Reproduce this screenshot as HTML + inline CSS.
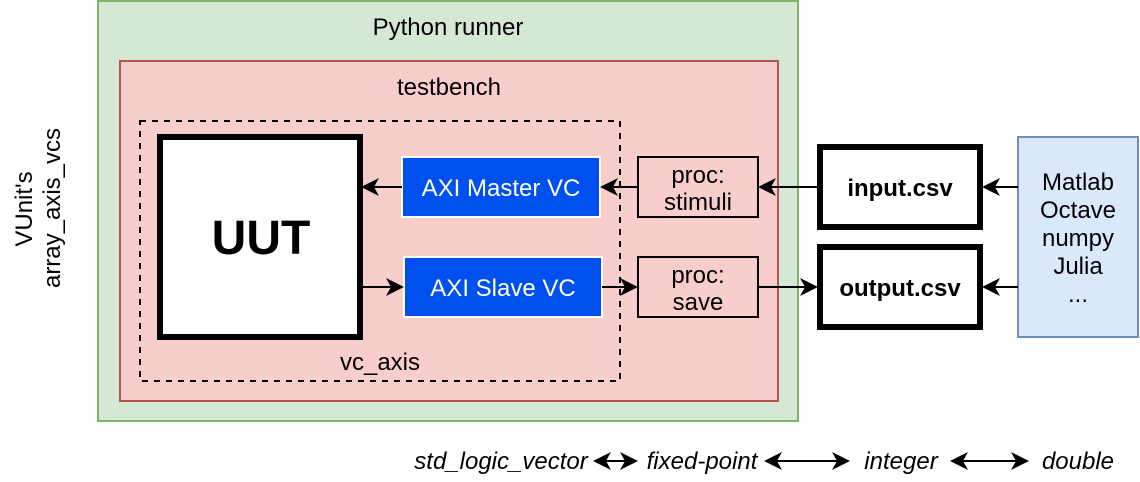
<!DOCTYPE html>
<html><head><meta charset="utf-8"><style>
html,body{margin:0;padding:0;background:#fff}
svg{display:block}
text{font-family:"Liberation Sans",sans-serif;font-size:24px;text-anchor:middle;fill:#000}
.w{fill:#fff}.b{font-weight:bold}.i{font-style:italic}
.l{stroke:#000;stroke-width:2;fill:none}
</style></head><body>
<svg width="1140" height="482" viewBox="0 0 1140 482" xmlns="http://www.w3.org/2000/svg">
<defs>
<path id="L" d="M-1 0L17 -9L12 0L17 9Z" fill="#000"/>
<path id="R" d="M1 0L-17 -9L-12 0L-17 9Z" fill="#000"/>
</defs>
<rect x="98" y="1" width="700" height="420" fill="#d5e8d4" stroke="#82b366" stroke-width="2"/>
<rect x="120" y="61" width="658" height="340" fill="#f8cecc" stroke="#b85450" stroke-width="2"/>
<rect x="140" y="121" width="480" height="260" fill="none" stroke="#000" stroke-width="2" stroke-dasharray="6 6"/>
<rect x="160" y="137" width="200" height="200" fill="#fff" stroke="#000" stroke-width="6"/>
<rect x="402" y="157" width="198" height="60" fill="#0050ef" stroke="#fff" stroke-width="2"/>
<rect x="404" y="257" width="198" height="60" fill="#0050ef" stroke="#fff" stroke-width="2"/>
<rect x="638" y="157" width="120" height="60" fill="#f8cecc" stroke="#000" stroke-width="2"/>
<rect x="638" y="257" width="120" height="60" fill="#f8cecc" stroke="#000" stroke-width="2"/>
<rect x="820" y="147" width="160" height="80" fill="#fff" stroke="#000" stroke-width="6"/>
<rect x="820" y="247" width="160" height="80" fill="#fff" stroke="#000" stroke-width="6"/>
<rect x="1018" y="137" width="120" height="200" fill="#dae8fc" stroke="#6c8ebf" stroke-width="2"/>

<path class="l" d="M402 187H372M638 187H610M818 187H770M1018 187H992M1018 287H992M362 287H394M602 287H628M758 287H808"/>
<use href="#L" x="362" y="187"/><use href="#L" x="601" y="187"/><use href="#L" x="759" y="187"/>
<use href="#L" x="983" y="187"/><use href="#L" x="983" y="287"/>
<use href="#R" x="403" y="287"/><use href="#R" x="637" y="287"/><use href="#R" x="817" y="287"/>

<path class="l" d="M603 461H628M775 461H838M960 461H1018"/>
<use href="#L" x="594" y="461"/><use href="#R" x="637" y="461"/>
<use href="#L" x="765" y="461"/><use href="#R" x="849" y="461"/>
<use href="#L" x="951" y="461"/><use href="#R" x="1028" y="461"/>

<text x="448" y="35">Python runner</text>
<text x="449" y="95">testbench</text>
<text x="380" y="370">vc_axis</text>
<text x="261" y="254" class="b" style="font-size:48px">UUT</text>
<text x="501" y="196" class="w">AXI Master VC</text>
<text x="503" y="296" class="w">AXI Slave VC</text>
<text x="698" y="183">proc:</text><text x="698" y="210">stimuli</text>
<text x="698" y="283">proc:</text><text x="698" y="310">save</text>
<text x="900" y="196" class="b">input.csv</text>
<text x="900" y="296" class="b">output.csv</text>
<text x="1078" y="190">Matlab</text>
<text x="1078" y="218">Octave</text>
<text x="1078" y="246">numpy</text>
<text x="1078" y="274">Julia</text>
<text x="1078" y="302">...</text>
<text transform="translate(32 209) rotate(-90)">VUnit's</text>
<text transform="translate(60 208) rotate(-90)">array_axis_vcs</text>
<text x="501" y="469" class="i">std_logic_vector</text>
<text x="702" y="469" class="i">fixed-point</text>
<text x="901" y="469" class="i">integer</text>
<text x="1078" y="469" class="i">double</text>
</svg>
</body></html>
